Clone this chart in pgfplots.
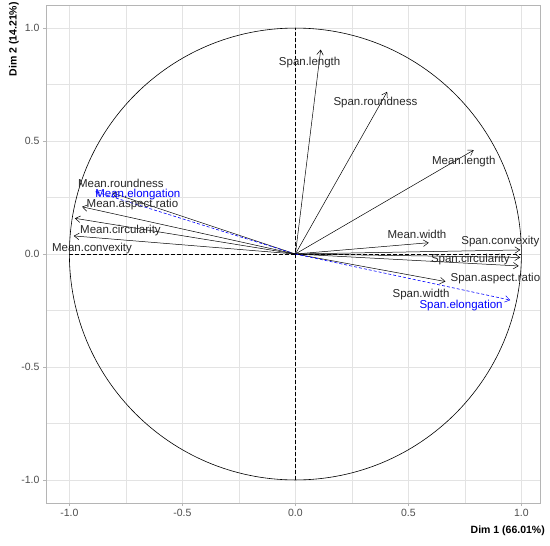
\documentclass[border=0pt]{standalone}
\usepackage{pgfplots}
\pgfplotsset{compat=1.18}
\usepackage{fontspec}
\setmainfont{Liberation Sans}
\usetikzlibrary{arrows.meta}
\definecolor{gridc}{HTML}{E3E3E3}
\definecolor{framec}{HTML}{B5B5B5}
\definecolor{tickc}{HTML}{4D4D4D}
\definecolor{elong}{HTML}{0000FF}
\begin{document}
\begin{tikzpicture}
\tikzset{
  arr/.style={black, line width=0.5pt, -{Straight Barb[length=5pt,width=6.5pt,line width=0.5pt]}},
  arrb/.style={elong, line width=0.6pt, dash pattern=on 3pt off 2pt, -{Straight Barb[length=5pt,width=6.5pt,line width=0.5pt]}},
  lab/.style={font=\fontsize{11.5}{13}\selectfont, text=black!85, inner sep=0pt},
  labb/.style={font=\fontsize{11.5}{13}\selectfont, text=elong, inner sep=0pt}
}
\begin{axis}[
  scale only axis, width=494pt, height=498pt,
  xmin=-1.1035, xmax=1.0823, ymin=-1.102, ymax=1.102,
  xtick={-1,-0.5,0,0.5,1}, ytick={-1,-0.5,0,0.5,1},
  minor xtick={-0.75,-0.25,0.25,0.75}, minor ytick={-0.75,-0.25,0.25,0.75},
  grid=both,
  major grid style={color=gridc, line width=0.6pt},
  minor grid style={color=gridc, line width=0.6pt},
  axis line style={color=framec, line width=0.6pt},
  tick style={color=framec, line width=0.6pt},
  tick align=outside, major tick length=3pt, minor tick length=0pt,
  xtick pos=bottom, ytick pos=left,
  tick label style={font=\fontsize{10.5}{12}\selectfont, text=tickc},
  /pgf/number format/.cd, fixed, fixed zerofill, precision=1, assume math mode=true,
]
\coordinate (LL) at (rel axis cs:0,0);
\coordinate (UR) at (rel axis cs:1,1);
\coordinate (LR) at (rel axis cs:1,0);
\coordinate (UL) at (rel axis cs:0,1);
% reference circle and dashed axes
\draw[black, line width=0.6pt] (axis cs:0,0) ellipse [x radius=1, y radius=1];
\draw[black, line width=0.6pt, dash pattern=on 4pt off 2pt] (axis cs:-1,0) -- (axis cs:1,0);
\draw[black, line width=0.6pt, dash pattern=on 4pt off 2pt] (axis cs:0,-1) -- (axis cs:0,1);
% variable arrows (Dim 1, Dim 2)
\addplot[arr] coordinates {(0,0) (0.112,0.905)};   % Span.length
\addplot[arr] coordinates {(0,0) (0.406,0.718)};   % Span.roundness
\addplot[arr] coordinates {(0,0) (0.789,0.460)};   % Mean.length
\addplot[arr] coordinates {(0,0) (0.590,0.050)};   % Mean.width
\addplot[arr] coordinates {(0,0) (0.995,0.018)};   % Span.convexity
\addplot[arr] coordinates {(0,0) (0.995,-0.015)};  % Span.circularity
\addplot[arr] coordinates {(0,0) (0.988,-0.053)};  % Span.aspect.ratio
\addplot[arr] coordinates {(0,0) (0.664,-0.122)};  % Span.width
\addplot[arrb] coordinates {(0,0) (0.951,-0.204)}; % Span.elongation
\addplot[arr] coordinates {(0,0) (-0.810,0.270)};  % Mean.roundness
\addplot[arrb] coordinates {(0,0) (-0.885,0.276)}; % Mean.elongation
\addplot[arr] coordinates {(0,0) (-0.944,0.209)};  % Mean.aspect.ratio
\addplot[arr] coordinates {(0,0) (-0.976,0.158)};  % Mean.circularity
\addplot[arr] coordinates {(0,0) (-0.981,0.080)};  % Mean.convexity
% labels
\node[lab] at (axis cs:0.063,0.848) {Span.length};
\node[lab] at (axis cs:0.354,0.671) {Span.roundness};
\node[lab] at (axis cs:0.745,0.408) {Mean.length};
\node[lab] at (axis cs:0.538,0.088) {Mean.width};
\node[lab] at (axis cs:0.907,0.054) {Span.convexity};
\node[lab] at (axis cs:0.774,-0.024) {Span.circularity};
\node[lab] at (axis cs:0.885,-0.108) {Span.aspect.ratio};
\node[lab] at (axis cs:0.556,-0.178) {Span.width};
\node[labb] at (axis cs:0.733,-0.226) {Span.elongation};
\node[lab] at (axis cs:-0.772,0.313) {Mean.roundness};
\node[labb] at (axis cs:-0.697,0.265) {Mean.elongation};
\node[lab] at (axis cs:-0.721,0.221) {Mean.aspect.ratio};
\node[lab] at (axis cs:-0.774,0.103) {Mean.circularity};
\node[lab] at (axis cs:-0.900,0.025) {Mean.convexity};
\end{axis}
\node[anchor=east, inner sep=0pt, font=\fontsize{10.5}{12}\selectfont\bfseries] at ([shift={(5pt,-28pt)}]LR) {Dim 1 (66.01\%)};
\node[anchor=east, rotate=90, inner sep=0pt, font=\fontsize{10.5}{12}\selectfont\bfseries] at ([shift={(-32pt,3pt)}]UL) {Dim 2 (14.21\%)};
\pgfresetboundingbox
\path ([shift={(-46pt,-42pt)}]LL) rectangle ([shift={(10pt,5pt)}]UR);
\end{tikzpicture}
\end{document}
